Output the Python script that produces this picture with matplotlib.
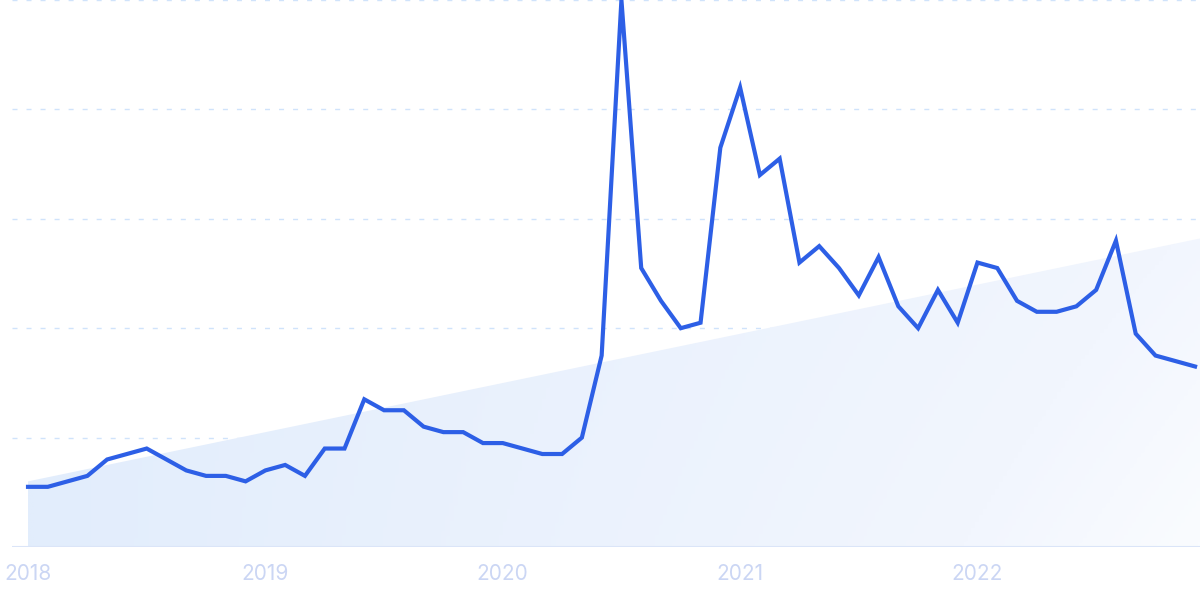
import numpy as np
import matplotlib
matplotlib.use('Agg')
import matplotlib.pyplot as plt
from matplotlib.colors import LinearSegmentedColormap
from matplotlib.patches import Polygon

# monthly interest, Jan 2018 .. Dec 2022
values = [11, 11, 12, 13, 16, 17, 18, 16, 14, 13, 13, 12,
          14, 15, 13, 18, 18, 27, 25, 25, 22, 21, 21, 19,
          19, 18, 17, 17, 20, 35, 100, 51, 45, 40, 41, 73,
          84, 68, 71, 52, 55, 51, 46, 53, 44, 40, 47, 41,
          52, 51, 45, 43, 43, 44, 47, 56, 39, 35, 34, 33]
year_labels = ["2018", "2019", "2020", "2021", "2022"]
trend_start, trend_end = 12.0, 56.4
grid_levels = [20, 40, 60, 80, 100]

line_color = "#2d5fe6"
label_color = "#cbd6f4"
grid_color = "#d0e3fb"

x = np.arange(len(values))
year_pos = [i * 12 for i in range(len(year_labels))]

fig = plt.figure(figsize=(12, 5.99), dpi=100)
ax = fig.add_axes([0.01, 52 / 599, 0.99, 547 / 599])
ax.set_xlim(-0.81, 59.25)
ax.set_ylim(0, 100)

# trend area, fading from light blue on the left to near white bottom right
poly = Polygon([(0, 0), (0, trend_start), (x[-1] + 0.25, trend_end), (x[-1] + 0.25, 0)],
               closed=True, facecolor="none", edgecolor="none")
ax.add_patch(poly)
gx, gy = np.meshgrid(np.linspace(0, 1, 300), np.linspace(0, 1, 150))
grad = gx * (0.8 + 0.2 * gy)
cmap = LinearSegmentedColormap.from_list(
    "fade", [(0, "#e2edfc"), (0.8, "#f2f6fe"), (1, "#fafcff")])
im = ax.imshow(grad, cmap=cmap, extent=[0, x[-1] + 0.25, 0, 60], origin="upper",
               aspect="auto", zorder=1)
im.set_clip_path(poly)

for g in grid_levels:
    ax.axhline(g, color=grid_color, lw=1, ls=(0, (3.6, 6.5)), zorder=0.5)
ax.axhline(0, color="#dbe5f8", lw=1.5, zorder=2)

ax.plot(x, values, color=line_color, lw=3, solid_joinstyle="miter", zorder=3)

ax.set_xticks(year_pos)
ax.set_xticklabels(year_labels)
ax.tick_params(axis="x", length=0, pad=12, labelsize=15, labelcolor=label_color)
for lbl in ax.get_xticklabels():
    lbl.set_fontfamily("Inter")
ax.set_yticks([])
for s in ax.spines.values():
    s.set_visible(False)

fig.savefig("out.png", dpi=100)
